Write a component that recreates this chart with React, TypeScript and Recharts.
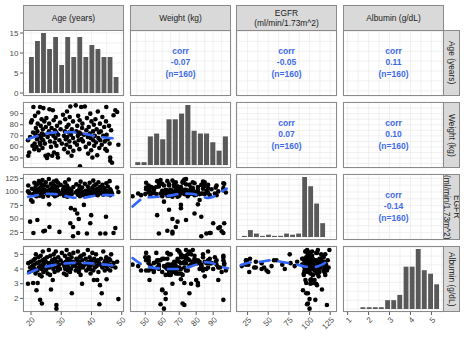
import React from "react"
import { ComposedChart, Scatter, Line, Bar, XAxis, YAxis, CartesianGrid } from "recharts"

const FONT = "'Liberation Sans', Arial, Helvetica, sans-serif"

// ---- observations (n = 160), one entry per subject ----
const ageYears = [
  19.0, 19.1, 19.4, 19.7, 20.0, 20.3, 20.5, 20.7, 20.8,
  21.1, 21.2, 21.3, 21.5, 21.6, 21.8, 22.0, 22.1, 22.2, 22.4, 22.6, 22.8, 22.9,
  23.0, 23.1, 23.2, 23.4, 23.5, 23.6, 23.8, 23.9, 24.0, 24.1, 24.3, 24.4, 24.6, 24.8, 24.9,
  25.1, 25.3, 25.5, 25.7, 25.9, 26.0, 26.1, 26.3, 26.4, 26.6, 26.8,
  27.0, 27.2, 27.4, 27.5, 27.6, 27.8, 27.9, 28.1, 28.2, 28.4, 28.4, 28.6, 28.7, 28.9,
  29.0, 29.4, 29.6, 29.8, 30.2, 30.6, 30.9,
  31.0, 31.2, 31.3, 31.5, 31.7, 31.8, 31.9, 32.0, 32.2, 32.4, 32.5, 32.7, 32.8, 32.9,
  33.0, 33.2, 33.4, 33.5, 33.9, 33.9, 34.0, 34.5, 34.8,
  35.0, 35.2, 35.3, 35.5, 35.6, 35.8, 35.9, 36.0, 36.1, 36.2, 36.4, 36.6, 36.7, 36.9,
  37.0, 37.2, 37.5, 37.8, 38.1, 38.3, 38.5, 38.8, 38.9,
  39.1, 39.2, 39.4, 39.6, 39.7, 39.9, 40.0, 40.3, 40.5, 40.6, 40.8, 40.9,
  41.1, 41.3, 41.5, 41.7, 41.9, 42.1, 42.3, 42.5, 42.6, 42.8, 42.9,
  43.1, 43.4, 43.6, 43.9, 44.2, 44.4, 44.6, 44.8, 44.9,
  45.0, 45.1, 45.4, 45.8, 46.0, 46.2, 46.2, 46.5, 46.8,
  47.3, 47.9, 48.5, 48.9,
]
const weightKg = [
  66, 52, 55, 69, 82, 84, 61, 73, 96,
  58, 63, 88, 71, 77, 60, 67, 74, 81, 91, 57, 70, 64,
  96, 62, 79, 68, 85, 72, 59, 76, 66, 95, 71, 83, 63, 52, 78,
  86, 50, 69, 53, 74, 81, 94, 65, 72, 60, 77,
  52, 93, 70, 84, 55, 64, 75, 68, 87, 73, 61, 79, 53.5, 50.5,
  71, 66, 82, 76, 63, 89, 70,
  58, 74, 85, 67, 62, 78, 92, 69, 55, 80, 73, 65, 87, 60,
  96.5, 71, 52, 76, 68, 83, 56.5, 64, 97.5,
  74, 62, 79, 70, 88, 66, 73, 58, 84, 42.5, 72, 96, 67, 77,
  81, 65, 71, 96.5, 60, 75, 86, 69, 54,
  78, 63, 72, 90, 68, 57, 83, 50.5, 74, 66, 80, 61,
  70, 85, 64, 76, 52.5, 92, 68, 73, 59, 81, 66,
  74, 62, 87, 70, 78, 65, 58, 83, 96,
  71, 56.6, 67, 79, 63, 47.5, 50.5, 75, 45.8,
  88.5, 93, 91.5, 62,
]
const egfr = [
  101, 112, 98, 45, 85, 106, 82, 96, 24,
  117, 103, 94, 109, 99, 92, 114, 48, 104, 97, 120, 101, 93,
  107, 100, 116, 95, 111, 98, 122, 103, 91, 27, 105, 113, 28, 99, 118,
  102, 96, 110, 93, 124, 77, 35, 104, 100, 115, 97,
  108, 101, 95, 119, 103, 112, 92, 106, 98, 121, 100, 94, 109, 117,
  102, 26, 96, 113, 99, 105, 93,
  110, 101, 118, 95, 104, 97, 112, 91, 107, 100, 123, 98, 106, 94,
  42, 70, 102, 96, 35, 18, 109, 67, 99,
  114, 101, 60, 95, 24, 50, 104, 111, 97, 92, 119, 103, 98, 108,
  100, 94, 76, 115, 102, 96, 23, 110, 99,
  105, 93, 117, 42, 101, 57, 97, 108, 100, 121, 95, 112,
  103, 96, 114, 99, 106, 94, 118, 101, 97, 109, 23,
  104, 98, 113, 95, 107, 100, 23, 54, 116,
  102, 96, 110, 99, 120, 94, 105, 101, 97,
  24, 33, 108, 100,
]
const albumin = [
  3.0, 4.4, 3.8, 4.1, 4.5, 3.9, 4.2, 3.05, 4.6,
  4.3, 4.0, 4.7, 3.7, 5.0, 2.55, 4.4, 3.9, 3.05, 4.8, 4.1, 4.5, 3.6,
  1.9, 4.2, 4.9, 4.0, 3.5, 1.65, 4.6, 5.2, 4.3, 3.8, 4.4, 4.1, 4.7, 3.9, 4.5,
  4.0, 4.8, 3.7, 4.2, 5.3, 4.4, 4.1, 3.6, 4.9, 2.6, 4.3,
  4.6, 3.25, 4.0, 5.0, 4.4, 3.8, 4.7, 4.2, 5.2, 1.55, 1.3, 4.5, 4.1, 3.9,
  4.8, 4.3, 4.0, 4.6, 5.1, 4.4, 3.7,
  4.2, 4.9, 4.0, 4.5, 3.6, 5.3, 4.3, 4.7, 3.9, 4.4, 4.1, 5.0, 4.6, 3.8,
  4.4, 4.0, 4.8, 2.35, 4.5, 4.2, 5.1, 4.3, 3.9,
  4.7, 4.1, 4.6, 5.2, 4.4, 3.8, 4.5, 4.0, 4.8, 4.3, 3.6, 4.9, 4.2, 3.0,
  4.6, 4.1, 5.0, 4.3, 4.7, 3.9, 4.4, 5.3, 4.0,
  4.5, 4.2, 4.8, 4.0, 3.7, 4.6, 4.3, 5.1, 4.4, 3.9, 3.25, 4.7,
  4.1, 4.5, 5.0, 4.2, 3.25, 4.6, 3.8, 4.4, 1.6, 2.9, 4.3,
  4.7, 2.35, 4.1, 5.2, 4.4, 3.9, 4.6, 4.2, 4.8,
  3.3, 4.5, 4.0, 4.7, 4.3, 3.9, 4.6, 5.0, 4.2,
  4.4, 4.1, 4.5, 1.95,
]

// ---- diagonal histograms: bin midpoints and counts ----
const ageBinMid = [20, 22, 24, 26, 28, 30, 32, 34, 36, 38, 40, 42, 44, 46, 48]
const ageCounts = [9, 13, 15, 11, 14, 7, 14, 9, 14, 9, 12, 11, 9, 9, 4]
const weightBinMid = [45.3, 49.0, 52.7, 56.4, 60.0, 63.7, 67.4, 71.1, 74.8, 78.5, 82.2, 85.8, 89.5, 93.2, 96.9]
const weightCounts = [1, 1, 10, 11, 9, 16, 16, 18, 21, 12, 11, 11, 8, 5, 10]
const egfrBinMid = [20.6, 27.9, 35.2, 42.5, 49.8, 57.0, 64.3, 71.6, 78.9, 86.2, 93.5, 100.8, 108.0, 115.3, 122.6]
const egfrCounts = [1, 6, 3, 1, 2, 1, 1, 3, 2, 3, 52, 44, 29, 12, 0]
const albBinMid = [1.13, 1.42, 1.71, 2.01, 2.3, 2.59, 2.89, 3.18, 3.47, 3.77, 4.06, 4.35, 4.64, 4.94, 5.23]
const albCounts = [0, 0, 1, 1, 1, 1, 5, 5, 8, 24, 24, 34, 22, 20, 14]

// ---- loess smooths (lower panels) ----
const ageWeightX = [19, 23, 26, 30, 34, 38, 42, 46, 49.3]
const ageWeightY = [67, 70.5, 72.5, 73.3, 73.2, 71.6, 69.5, 68, 67.5]
const ageEgfrX = [19, 22, 25, 28, 31, 34, 37, 40, 43, 46, 49.5]
const ageEgfrY = [91, 94, 96.5, 96, 93, 89.5, 89, 92, 94, 94, 93]
const ageAlbX = [19, 21, 24, 27, 31, 35, 39, 43, 46, 49.3]
const ageAlbY = [3.7, 3.88, 4.1, 4.25, 4.38, 4.42, 4.4, 4.33, 4.27, 4.2]
const weightEgfrX = [42.5, 45, 48, 52, 57, 62, 67, 72, 77, 82, 87, 90, 94, 98]
const weightEgfrY = [73, 80, 87, 90, 91, 92, 94.5, 97, 96.5, 93, 89, 91, 99, 106]
const weightAlbX = [42.5, 46, 50, 55, 60, 65, 70, 75, 80, 85, 88, 92, 95, 98.8]
const weightAlbY = [4.75, 4.45, 4.2, 4.08, 4.03, 4.0, 4.0, 4.12, 4.3, 4.47, 4.45, 4.3, 4.15, 4.05]
const egfrAlbX = [17, 27, 41, 55, 65, 75, 85, 96, 108, 115, 121, 127]
const egfrAlbY = [4.27, 4.43, 4.5, 4.6, 4.5, 4.4, 4.3, 4.16, 4.15, 4.3, 4.5, 4.66]

// ---- upper panels: correlations ----
const corrRow = [0, 0, 0, 1, 1, 2]
const corrCol = [1, 2, 3, 2, 3, 3]
const corrValue = ["-0.07", "-0.05", "0.11", "0.07", "0.10", "-0.14"]
const corrN = 160

const stripLabels = ["Age (years)", "Weight (kg)", "EGFR\n(ml/min/1.73m^2)", "Albumin (g/dL)"]

// ---- layout ----
const PANEL_W = 101
const PANEL_H = 66
const COL_LEFT = [23, 130, 236, 343]
const ROW_TOP = [30, 102, 174, 246]
const Y_AXIS_W = 23
const X_AXIS_H = 26

type AxisSpec = { domain: [number, number]; major: number[]; minor: number[] }

const AGE: AxisSpec = { domain: [17.35, 50.76], major: [20, 30, 40, 50], minor: [25, 35, 45] }
const WEIGHT: AxisSpec = { domain: [41, 100.5], major: [50, 60, 70, 80, 90], minor: [45, 55, 65, 75, 85, 95] }
const EGFR: AxisSpec = { domain: [11, 133.2], major: [25, 50, 75, 100, 125], minor: [12.5, 37.5, 62.5, 87.5, 112.5] }
const ALB_X: AxisSpec = { domain: [0.78, 5.6], major: [1, 2, 3, 4, 5], minor: [1.5, 2.5, 3.5, 4.5, 5.5] }
const ALB_Y: AxisSpec = { domain: [1.07, 5.57], major: [2, 3, 4, 5], minor: [1.5, 2.5, 3.5, 4.5, 5.5] }
const AGE_N: AxisSpec = { domain: [-0.75, 15.75], major: [0, 5, 10, 15], minor: [2.5, 7.5, 12.5] }
const WEIGHT_N: AxisSpec = { domain: [-1.05, 22.05], major: [0, 5, 10, 15, 20], minor: [2.5, 7.5, 12.5, 17.5] }
const EGFR_N: AxisSpec = { domain: [-2.6, 54.6], major: [0, 10, 20, 30, 40, 50], minor: [5, 15, 25, 35, 45] }
const ALB_N: AxisSpec = { domain: [-1.7, 35.7], major: [0, 10, 20, 30], minor: [5, 15, 25, 35] }

const vars = [ageYears, weightKg, egfr, albumin]
const colAxis = [AGE, WEIGHT, EGFR, ALB_X]
const rowAxis = [AGE, WEIGHT, EGFR, ALB_Y]
const diag = [
  { mid: ageBinMid, n: ageCounts, ys: AGE_N },
  { mid: weightBinMid, n: weightCounts, ys: WEIGHT_N },
  { mid: egfrBinMid, n: egfrCounts, ys: EGFR_N },
  { mid: albBinMid, n: albCounts, ys: ALB_N },
]
const smooths: Record<string, [number[], number[]]> = {
  "1-0": [ageWeightX, ageWeightY],
  "2-0": [ageEgfrX, ageEgfrY],
  "3-0": [ageAlbX, ageAlbY],
  "2-1": [weightEgfrX, weightEgfrY],
  "3-1": [weightAlbX, weightAlbY],
  "3-2": [egfrAlbX, egfrAlbY],
}

const allTicks = (a: AxisSpec) =>
  [...a.major, ...a.minor].filter((t) => t >= a.domain[0] && t <= a.domain[1]).sort((p, q) => p - q)

const XTick = (props: any) => {
  const { x, y, payload, majors } = props
  if (!majors.includes(payload.value)) return null
  const ax = x + 0.5
  const ay = y + 4.5
  return (
    <g>
      <line x1={x} x2={x} y1={y} y2={y + 3} stroke="#333333" strokeWidth={0.8} />
      <text
        x={ax}
        y={ay}
        textAnchor="end"
        dominantBaseline="hanging"
        transform={`rotate(-45 ${ax} ${ay})`}
        fontSize={8}
        fontFamily={FONT}
        fill="#4d4d4d"
      >
        {payload.value}
      </text>
    </g>
  )
}

const YTick = (props: any) => {
  const { x, y, payload, majors } = props
  if (!majors.includes(payload.value)) return null
  return (
    <g>
      <line x1={x - 3} x2={x} y1={y} y2={y} stroke="#333333" strokeWidth={0.8} />
      <text x={x - 4.5} y={y} textAnchor="end" dominantBaseline="central" fontSize={8} fontFamily={FONT} fill="#4d4d4d">
        {payload.value}
      </text>
    </g>
  )
}

const Dot = (p: any) => <circle cx={p.cx} cy={p.cy} r={2.3} fill="#000000" />

function Panel(props: {
  row: number
  col: number
  xs: AxisSpec
  ys: AxisSpec
  data?: any[]
  children?: React.ReactNode
  onTop?: React.ReactNode
  overlay?: React.ReactNode
}) {
  const { row, col, xs, ys, data, children, onTop, overlay } = props
  const showX = row === 3
  const showY = col === 0
  const padL = showY ? Y_AXIS_W : 0
  const padB = showX ? X_AXIS_H : 0
  const w = PANEL_W + padL
  const h = PANEL_H + padB
  return (
    <div style={{ position: "absolute", left: COL_LEFT[col] - padL, top: ROW_TOP[row], width: w, height: h }}>
      <ComposedChart width={w} height={h} data={data} margin={{ top: 0, right: 0, bottom: 0, left: 0 }}>
        <CartesianGrid stroke="#ebebeb" strokeWidth={0.7} />
        <XAxis
          type="number"
          dataKey="x"
          domain={xs.domain}
          ticks={allTicks(xs)}
          interval={0}
          allowDataOverflow
          hide={!showX}
          height={padB}
          axisLine={false}
          tickLine={false}
          tickSize={0}
          tickMargin={0}
          tick={(p: any) => <XTick {...p} majors={xs.major} />}
        />
        <YAxis
          type="number"
          dataKey="y"
          domain={ys.domain}
          ticks={allTicks(ys)}
          interval={0}
          allowDataOverflow
          hide={!showY}
          width={padL}
          axisLine={false}
          tickLine={false}
          tickSize={0}
          tickMargin={0}
          tick={(p: any) => <YTick {...p} majors={ys.major} />}
        />
        {children}
      </ComposedChart>
      {onTop && (
        <div style={{ position: "absolute", left: padL, top: 0, width: PANEL_W, height: PANEL_H, pointerEvents: "none" }}>
          <ComposedChart width={PANEL_W} height={PANEL_H} margin={{ top: 0, right: 0, bottom: 0, left: 0 }}>
            <XAxis type="number" dataKey="x" domain={xs.domain} allowDataOverflow hide />
            <YAxis type="number" dataKey="y" domain={ys.domain} allowDataOverflow hide />
            {onTop}
          </ComposedChart>
        </div>
      )}
      <div
        style={{
          position: "absolute",
          left: padL,
          top: 0,
          width: PANEL_W,
          height: PANEL_H,
          border: "1px solid #8a8a8a",
          boxSizing: "border-box",
          pointerEvents: "none",
        }}
      >
        {overlay}
      </div>
    </div>
  )
}

export default function App() {
  const panels: React.ReactNode[] = []

  for (let i = 0; i < 4; i++) {
    for (let j = 0; j < 4; j++) {
      const key = `${i}-${j}`
      if (i === j) {
        const d = diag[i]
        const xs = colAxis[j]
        const hist = d.mid.map((m, k) => ({ x: m, y: d.n[k] }))
        const binPx = ((d.mid[1] - d.mid[0]) * PANEL_W) / (xs.domain[1] - xs.domain[0])
        panels.push(
          <Panel key={key} row={i} col={j} xs={xs} ys={d.ys} data={hist}>
            <Bar dataKey="y" fill="#595959" barSize={binPx - 1.2} isAnimationActive={false} />
          </Panel>
        )
      } else if (i > j) {
        const pts = vars[j].map((v, k) => ({ x: v, y: vars[i][k] }))
        const [sx, sy] = smooths[key]
        const curve = sx.map((v, k) => ({ x: v, y: sy[k] }))
        panels.push(
          <Panel
            key={key}
            row={i}
            col={j}
            xs={colAxis[j]}
            ys={rowAxis[i]}
            onTop={
              <Line
                data={curve}
                dataKey="y"
                type="monotone"
                stroke="#3366FF"
                strokeWidth={2.6}
                strokeDasharray="10 9"
                strokeLinecap="round"
                dot={false}
                isAnimationActive={false}
              />
            }
          >
            <Scatter data={pts} dataKey="y" shape={Dot} isAnimationActive={false} />
          </Panel>
        )
      } else {
        const c = corrRow.findIndex((r, k) => r === i && corrCol[k] === j)
        panels.push(
          <Panel
            key={key}
            row={i}
            col={j}
            xs={colAxis[j]}
            ys={rowAxis[i]}
            overlay={
              <div
                style={{
                  position: "absolute",
                  inset: 0,
                  display: "flex",
                  flexDirection: "column",
                  alignItems: "center",
                  justifyContent: "center",
                  fontFamily: FONT,
                  fontSize: 8.5,
                  fontWeight: "bold",
                  lineHeight: "11.5px",
                  color: "#3f6be8",
                }}
              >
                <div>corr</div>
                <div>{corrValue[c]}</div>
                <div>(n={corrN})</div>
              </div>
            }
          />
        )
      }
    }
  }

  return (
    <div
      style={{
        position: "fixed",
        left: 0,
        top: 0,
        width: 474,
        height: 338,
        background: "#ffffff",
        overflow: "hidden",
        fontFamily: FONT,
      }}
    >
      <style>{`.recharts-surface { overflow: visible; }`}</style>
      {panels}
      {stripLabels.map((lab, j) => (
        <div
          key={`top-${j}`}
          style={{
            position: "absolute",
            left: COL_LEFT[j],
            top: 5,
            width: PANEL_W,
            height: 26,
            background: "#d9d9d9",
            border: "1px solid #8a8a8a",
            boxSizing: "border-box",
            display: "flex",
            alignItems: "center",
            justifyContent: "center",
            textAlign: "center",
            whiteSpace: "pre",
            fontSize: 8.4,
            lineHeight: "10px",
            color: "#1a1a1a",
          }}
        >
          {lab}
        </div>
      ))}
      {stripLabels.map((lab, i) => (
        <div
          key={`right-${i}`}
          style={{
            position: "absolute",
            left: COL_LEFT[3] + PANEL_W - 1,
            top: ROW_TOP[i],
            width: 17,
            height: PANEL_H,
            background: "#d9d9d9",
            border: "1px solid #8a8a8a",
            boxSizing: "border-box",
            display: "flex",
            alignItems: "center",
            justifyContent: "center",
            overflow: "hidden",
          }}
        >
          <div
            style={{
              writingMode: "vertical-rl",
              whiteSpace: "pre",
              textAlign: "center",
              fontSize: 8.4,
              lineHeight: "10px",
              color: "#1a1a1a",
            }}
          >
            {lab}
          </div>
        </div>
      ))}
    </div>
  )
}
